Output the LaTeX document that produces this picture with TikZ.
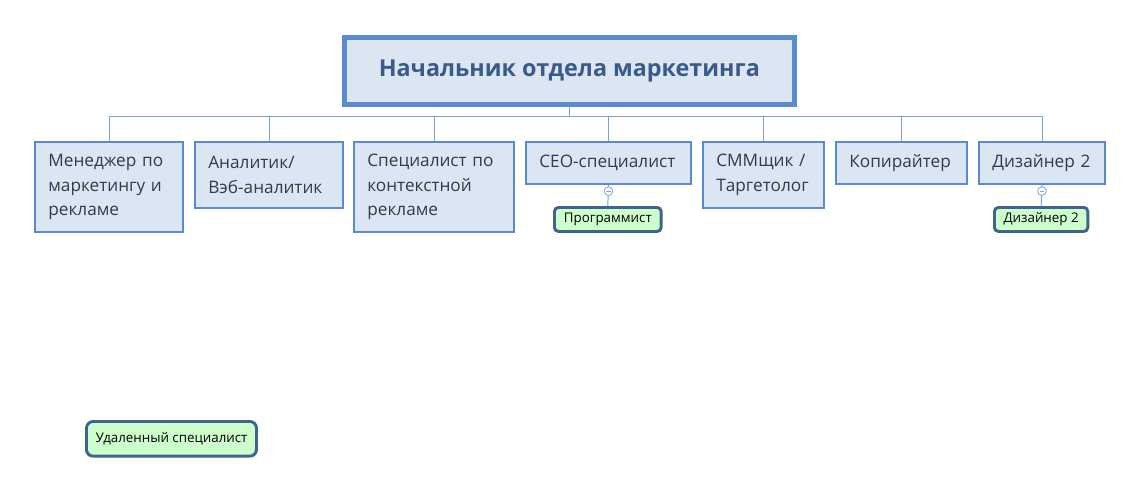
\documentclass[tikz,border=0pt]{standalone}
\usepackage{fontspec}
\setmainfont{Open Sans}
\usetikzlibrary{positioning}
\definecolor{topicline}{HTML}{5B8BCF}
\definecolor{topicfill}{HTML}{DCE6F2}
\definecolor{linkline}{HTML}{7FA3D6}
\definecolor{leafline}{HTML}{41638F}
\definecolor{leaffill}{HTML}{CCFFCC}
\definecolor{titletext}{HTML}{3A5A8A}
\definecolor{topictext}{HTML}{2E3B50}
\tikzset{
  topic/.style={draw=topicline, fill=topicfill, line width=1.5pt, anchor=north west,
    align=left, inner xsep=10pt, text=topictext, font=\fontsize{12.9}{18.4}\selectfont},
  leaf/.style={draw=leafline, fill=leaffill, line width=2.2pt, rounded corners=3pt,
    anchor=north west, align=center, font=\fontsize{10}{12}\selectfont},
  knob/.style={circle, draw=linkline, fill=white, line width=0.6pt, inner sep=0pt, minimum size=6.5pt,
    path picture={\draw[linkline, line width=0.6pt] ([xshift=1.4pt]path picture bounding box.west) -- ([xshift=-1.4pt]path picture bounding box.east);}},
  link/.style={draw=linkline, line width=0.75pt}
}
\begin{document}
\begin{tikzpicture}[x=0.75pt, y=-0.75pt]
  \useasboundingbox (0,0) rectangle (1136,486);

  \node[topic, line width=3.5pt, minimum width=337.5pt, minimum height=50.25pt, align=center,
    text=titletext, font=\fontsize{17.5}{20}\selectfont\bfseries] (boss) at (342,35) {Начальник отдела маркетинга};

  \node[topic, text width=91pt, minimum height=67.5pt] (manager) at (34,141) {Менеджер по\\маркетингу и\\рекламе};
  \node[topic, text width=91pt, minimum height=49.5pt] (analyst) at (194,141) {Аналитик/\\Вэб-аналитик};
  \node[topic, text width=100pt, minimum height=67.5pt] (context) at (353,141) {Специалист по\\контекстной\\рекламе};
  \node[topic, text width=103.75pt, minimum height=31.5pt] (seo) at (525,141) {СЕО-специалист};
  \node[topic, text width=70.75pt, minimum height=49.5pt] (smm) at (702,141) {СММщик /\\Таргетолог};
  \node[topic, text width=78.25pt, minimum height=31.5pt] (copy) at (835,141) {Копирайтер};
  \node[topic, text width=74.5pt, minimum height=31.5pt] (design) at (978,141) {Дизайнер 2};

  \foreach \child in {manager, analyst, context, seo, smm, copy, design}
    \draw[link] (boss.south) -- ++(0,10) -| (\child.north);

  \node[leaf, minimum width=80pt, minimum height=18pt] (coder) at (553,206) {Программист};
  \node[leaf, minimum width=70pt, minimum height=18pt] (designer) at (993,206) {Дизайнер 2};
  \node[leaf, rounded corners=5pt, minimum width=127.5pt, minimum height=26pt] (remote) at (85,420) {Удаленный специалист};

  \draw[link] (seo.south) -- (coder.north);
  \draw[link] (design.south) -- (designer.north);
  \node[knob, below=1pt of seo] {};
  \node[knob, below=1pt of design] {};
\end{tikzpicture}
\end{document}
